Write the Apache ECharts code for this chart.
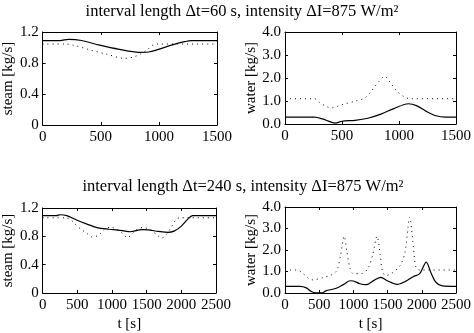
<!DOCTYPE html>
<html>
<head>
<meta charset="utf-8">
<script src="https://cdn.jsdelivr.net/npm/echarts@6/dist/echarts.min.js"></script>
<style>html,body{margin:0;padding:0;background:#fff}#c{width:474px;height:333px}</style>
</head>
<body>
<div id="c"></div>
<script>
// ---- Data ----
const titleTop = 'interval length \u0394t=60 s, intensity \u0394I=875 W/m\u00B2';
const titleBottom = 'interval length \u0394t=240 s, intensity \u0394I=875 W/m\u00B2';

// Top-left: steam, dt = 60 s
const tlSolidT = [0, 150, 222, 335, 490, 659, 827, 912, 996, 1109, 1222, 1278, 1500];
const tlSolidV = [1.09, 1.09, 1.105, 1.09, 1.03, 0.976, 0.938, 0.942, 0.976, 1.03, 1.075, 1.09, 1.09];
const tlDotT = [0, 194, 265, 405, 546, 701, 771, 842, 898, 940, 982, 1500];
const tlDotV = [1.045, 1.045, 1.03, 0.97, 0.916, 0.86, 0.873, 0.916, 0.968, 1.024, 1.045, 1.045];

// Top-right: water, dt = 60 s
const trSolidT = [0, 259, 329, 400, 443, 500, 614, 727, 841, 955, 1082, 1153, 1239, 1324, 1409, 1500];
const trSolidV = [0.30, 0.30, 0.22, 0.09, 0.04, 0.12, 0.16, 0.25, 0.43, 0.67, 0.88, 0.80, 0.55, 0.36, 0.30, 0.30];
const trDotT = [0, 259, 301, 372, 415, 500, 614, 699, 756, 812, 875, 926, 983, 1054, 1096, 1500];
const trDotV = [1.10, 1.10, 0.94, 0.74, 0.71, 0.84, 0.99, 1.13, 1.42, 1.78, 2.07, 1.78, 1.42, 1.16, 1.10, 1.10];

// Bottom-left: steam, dt = 240 s
const blSolidT = [0, 200, 254, 348, 490, 631, 796, 960, 1149, 1266, 1431, 1525, 1667, 1808, 1902, 1996, 2090, 2161, 2500];
const blSolidV = [1.092, 1.092, 1.105, 1.092, 1.03, 0.976, 0.92, 0.9, 0.88, 0.865, 0.895, 0.89, 0.87, 0.856, 0.877, 0.94, 1.04, 1.092, 1.092];
const blDotT = [0, 325, 419, 513, 631, 725, 819, 890, 984, 1078, 1172, 1219, 1290, 1361, 1455, 1549, 1643, 1714, 1784, 1855, 1926, 1973, 2500];
const blDotV = [1.062, 1.062, 1.02, 0.93, 0.847, 0.787, 0.826, 0.9, 0.93, 0.89, 0.826, 0.78, 0.834, 0.9, 0.925, 0.89, 0.826, 0.774, 0.826, 0.93, 1.04, 1.062, 1.062];

// Bottom-right: water, dt = 240 s
const brSolidT = [0, 218, 312, 384, 455, 550, 597, 739, 857, 952, 999, 1094, 1188, 1307, 1401, 1496, 1638, 1757, 1875, 1970, 2065, 2135, 2206, 2300, 2500];
const brSolidV = [0.31, 0.31, 0.24, 0.07, 0.01, 0.01, 0.1, 0.21, 0.4, 0.57, 0.56, 0.43, 0.39, 0.6, 0.73, 0.57, 0.4, 0.53, 0.76, 0.9, 1.44, 0.93, 0.5, 0.33, 0.31];
const brDotT = [0, 170, 242, 360, 407, 549, 691, 762, 810, 866, 904, 952, 999, 1117, 1212, 1283, 1345, 1392, 1425, 1473, 1567, 1686, 1757, 1823, 1875, 1913, 1970, 2500];
const brDotV = [1.07, 1.07, 0.96, 0.64, 0.61, 0.71, 0.86, 1.07, 1.71, 2.64, 1.93, 1.14, 0.9, 0.9, 1.14, 1.79, 2.64, 1.79, 1.0, 0.81, 0.93, 1.29, 1.93, 3.53, 2.21, 1.21, 1.07, 1.07];

// Axis ranges / ticks
const xMaxTop = 1500, xMaxBottom = 2500, xStep = 500;
const steamMax = 1.2, steamStep = 0.4;
const waterMax = 4.0, waterStep = 1.0;
const steamName = 'steam [kg/s]', waterName = 'water [kg/s]', timeName = 't [s]';

// ---- Chart ----
const FONT = 'Liberation Serif';
const pair = (t, v) => t.map((x, i) => [x, v[i]]);
const grids = [
  {left: 39, top: 32, width: 178, height: 93},
  {left: 285, top: 32, width: 176, height: 92},
  {left: 39, top: 208, width: 177, height: 93},
  {left: 285, top: 207, width: 176, height: 93}
];
const xMax = [xMaxTop, xMaxTop, xMaxBottom, xMaxBottom];
const yMax = [steamMax, waterMax, steamMax, waterMax];
const yStep = [steamStep, waterStep, steamStep, waterStep];
const yNames = [steamName, waterName, steamName, waterName];
const xNames = ['', '', timeName, timeName];
const steamFmt = v => (v === 0 ? '0' : v.toFixed(1));
const waterFmt = v => v.toFixed(1);
const xFmt = v => String(v);
const yFmt = [steamFmt, waterFmt, steamFmt, waterFmt];

const lineCol = '#000';
const xAxis = [], yAxis = [];
grids.forEach((g, i) => {
  const common = {gridIndex: i, type: 'value', splitLine: {show: false},
    axisLine: {show: true, onZero: false, lineStyle: {color: lineCol, width: 1}},
    axisTick: {show: true, inside: true, length: 3, lineStyle: {color: lineCol}}};
  xAxis.push(Object.assign({}, common, {position: 'bottom', min: 0, max: xMax[i], interval: xStep,
    axisLabel: {fontFamily: FONT, fontSize: 15, color: '#000', margin: 5, formatter: xFmt},
    name: xNames[i], nameLocation: 'middle', nameGap: 24,
    nameTextStyle: {fontFamily: FONT, fontSize: 15, color: '#000'}}));
  xAxis.push(Object.assign({}, common, {position: 'top', min: 0, max: xMax[i], interval: xStep,
    axisLabel: {show: false}}));
  yAxis.push(Object.assign({}, common, {position: 'left', min: 0, max: yMax[i], interval: yStep[i],
    axisLabel: {fontFamily: FONT, fontSize: 15, color: '#000', margin: 4, formatter: yFmt[i]},
    name: yNames[i], nameLocation: 'middle', nameGap: 26,
    nameTextStyle: {fontFamily: FONT, fontSize: 15, color: '#000'}}));
  yAxis.push(Object.assign({}, common, {position: 'right', min: 0, max: yMax[i], interval: yStep[i],
    axisLabel: {show: false}}));
});

const solid = {color: lineCol, width: 1.2, type: 'solid'};
const dotted = {color: lineCol, width: 1, type: [1, 4]};
const mk = (i, t, v, style) => ({type: 'line', xAxisIndex: 2 * i, yAxisIndex: 2 * i,
  data: pair(t, v), showSymbol: false, smooth: 0.3, lineStyle: style, animation: false});

const series = [
  mk(0, tlSolidT, tlSolidV, solid), mk(0, tlDotT, tlDotV, dotted),
  mk(1, trSolidT, trSolidV, solid), mk(1, trDotT, trDotV, dotted),
  mk(2, blSolidT, blSolidV, solid), mk(2, blDotT, blDotV, dotted),
  mk(3, brSolidT, brSolidV, solid), mk(3, brDotT, brDotV, dotted)
];

const chart = echarts.init(document.getElementById('c'), null, {renderer: 'canvas'});
chart.setOption({
  animation: false,
  backgroundColor: '#fff',
  grid: grids,
  xAxis: xAxis,
  yAxis: yAxis,
  series: series,
  graphic: [
    {type: 'text', x: 242, y: 3, style: {text: titleTop, font: '16.5px "Liberation Serif"', fill: '#000', textAlign: 'center', textVerticalAlign: 'top'}},
    {type: 'text', x: 243, y: 178, style: {text: titleBottom, font: '16.5px "Liberation Serif"', fill: '#000', textAlign: 'center', textVerticalAlign: 'top'}}
  ]
});
</script>
</body>
</html>
